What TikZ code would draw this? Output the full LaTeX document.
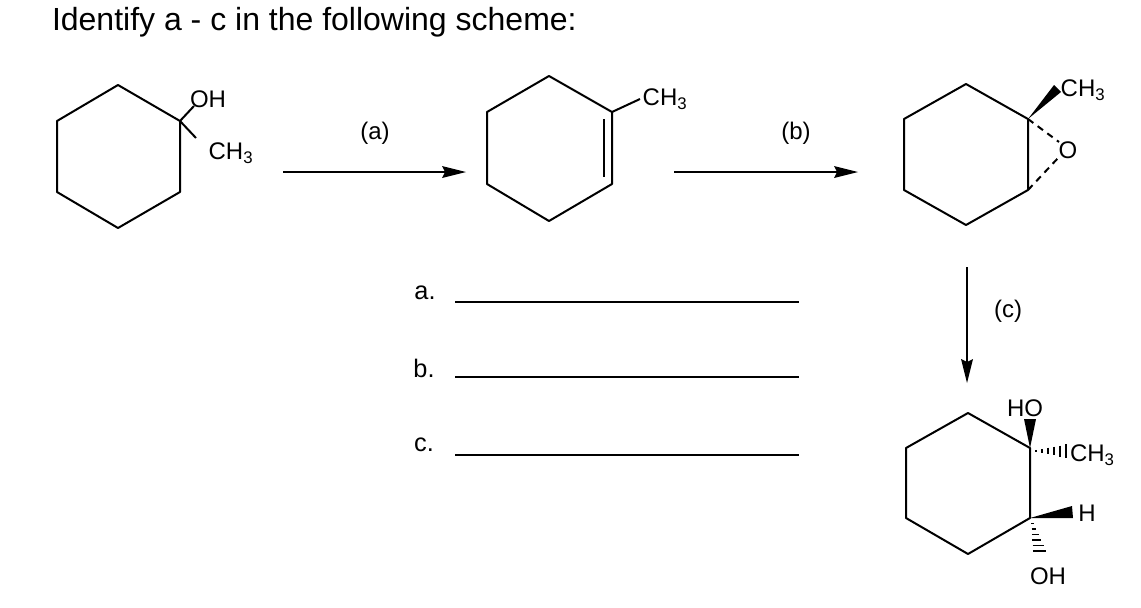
\documentclass[tikz,border=0pt]{standalone}
\usepackage{fontspec}
\setmainfont{Liberation Sans}
\usetikzlibrary{arrows.meta,calc}
\newcommand{\methyl}{CH\textsubscript{3}}
\begin{document}
\begin{tikzpicture}[x=0.75pt,y=-0.75pt,line width=1.5pt,line join=round,
  lbl/.style={font=\fontsize{18}{20}\selectfont,inner sep=0pt},
  rxn/.style={line width=1.6pt},
  blank/.style={line width=0.8pt}]
\useasboundingbox (0,0) rectangle (1141,607);
\node[anchor=west,font=\fontsize{24}{28}\selectfont,inner sep=0pt] (title) at (51,22) {Identify a - c in the following scheme:};
% ring 1
\draw (118,85)--(180,121)--(180,192)--(118,228)--(57,192)--(57,121)--cycle;
\draw (180,121)--(194,106) (180,121)--(196,138);
\node[lbl] (oh1) at (208,99) {OH};
\node[lbl] (me1) at (231,153) {\methyl};
% ring 2
\draw (549,76)--(612,112)--(612,184)--(549,221)--(487,184)--(487,112)--cycle;
\draw (604,119)--(604,177);
\draw (612,112)--(640,99);
\node[lbl] (me2) at (665,99) {\methyl};
% ring 3
\draw (966,84)--(1028,119)--(1028,190)--(966,225)--(904,190)--(904,119)--cycle;
\fill (1028,119)--(1054,85)--(1061,92)--cycle;
\node[lbl] (me3) at (1083,90) {\methyl};
\node[lbl] (o3) at (1068,150) {O};
\draw[dashed,dash pattern=on 5pt off 4pt] (1028,119)--(1059,142) (1028,190)--(1059,157);
% ring 4
\draw (968,413)--(1030,448)--(1030,518)--(968,554)--(906,518)--(906,448)--cycle;
\fill (1030,448)--(1024,419)--(1036,419)--cycle;
\node[lbl] (ho4) at (1025,408) {HO};
\foreach \i in {1,...,6}{\draw[line width=1pt] ({1030+\i*6},{451-\i*1.1})--({1030+\i*6},{451+\i*1.1});}
\node[lbl,anchor=west] (me4) at (1069,455) {\methyl};
\fill (1030,518)--(1072,506)--(1073,518)--cycle;
\node[lbl] (h4) at (1087,513) {H};
\foreach \i in {1,...,6}{\draw[line width=1pt] ({1031+\i*1.4-\i*1.1},{518+\i*5.5})--({1031+\i*1.4+\i*1.1},{518+\i*5.5});}
\node[lbl] (oh4) at (1048,576) {OH};
% arrows
\coordinate (a1) at (283,172); \coordinate (a2) at (466,172);
\draw[rxn] (a1)--($(a2)+(-10,0)$);
\fill (a2)--++(-24,-6)--++(3,6)--++(-3,6)--cycle;
\node[lbl] (la) at (375,133) {(a)};
\coordinate (b1) at (674,172); \coordinate (b2) at (858,172);
\draw[rxn] (b1)--($(b2)+(-10,0)$);
\fill (b2)--++(-24,-6)--++(3,6)--++(-3,6)--cycle;
\node[lbl] (lb) at (796,133) {(b)};
\coordinate (c1) at (967,267); \coordinate (c2) at (967,383);
\draw[rxn] (c1)--($(c2)+(0,-10)$);
\fill (c2)--++(-6,-24)--++(6,3)--++(6,-3)--cycle;
\node[lbl] (lc) at (1008,311) {(c)};
% blanks
\node[lbl,font=\fontsize{19}{21}\selectfont] (qa) at (425,293) {a.};
\node[lbl,font=\fontsize{19}{21}\selectfont] (qb) at (424,368) {b.};
\node[lbl,font=\fontsize{19}{21}\selectfont] (qc) at (424,445) {c.};
\draw[blank] (455,302)--(799,302) (455,377)--(799,377) (455,455)--(799,455);
\end{tikzpicture}
\end{document}
